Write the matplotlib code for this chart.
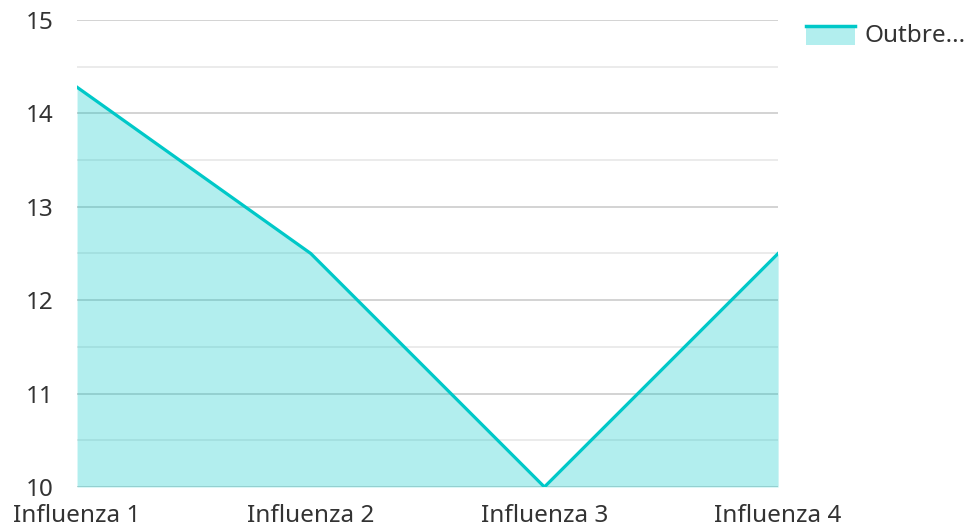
import matplotlib.pyplot as plt
from matplotlib.patches import Rectangle
from matplotlib.lines import Line2D
from matplotlib.legend_handler import HandlerBase

plt.rcParams['font.family'] = ['Noto Sans', 'DejaVu Sans']

# --- données ---
categories = ["Influenza 1", "Influenza 2", "Influenza 3", "Influenza 4"]
outbreak = [14.28, 12.5, 10.0, 12.5]
series_name = "Outbre..."

line_color = '#00c8c8'
text_color = '#333333'


class AreaHandler(HandlerBase):
    # ligne en haut, remplissage en dessous
    def create_artists(self, legend, orig_handle, xdescent, ydescent,
                       width, height, fontsize, trans):
        top = height * 0.95
        bottom = -ydescent - height * 0.15
        rect = Rectangle((-xdescent, bottom), width, top - bottom,
                         facecolor=line_color, alpha=0.3, edgecolor='none',
                         transform=trans)
        ln = Line2D([-xdescent, -xdescent + width], [top, top],
                    color=line_color, linewidth=2.5, transform=trans)
        return [rect, ln]


fig = plt.figure(figsize=(9.69, 5.28), dpi=100)
ax = fig.add_axes([0.0795, 0.0777, 0.7235, 0.8845])

x = list(range(len(categories)))
ax.fill_between(x, outbreak, 10, color=line_color, alpha=0.3, linewidth=0, zorder=2)
ax.plot(x, outbreak, color=line_color, linewidth=2.3, zorder=3)

ax.set_xlim(0, len(categories) - 1)
ax.set_ylim(10, 15)
ax.set_xticks(x)
ax.set_xticklabels(categories)
ax.set_yticks([10, 11, 12, 13, 14, 15])
ax.set_yticks([10.5, 11.5, 12.5, 13.5, 14.5], minor=True)

ax.grid(True, which='major', axis='y', color='#cccccc', linewidth=1.2, zorder=0)
ax.grid(True, which='minor', axis='y', color='#e8e8e8', linewidth=1.2, zorder=0)
ax.set_axisbelow(True)
for s in ax.spines.values():
    s.set_visible(False)

ax.tick_params(axis='both', which='both', length=0, labelsize=17.5, labelcolor=text_color)
ax.tick_params(axis='y', pad=17)
ax.tick_params(axis='x', pad=12)

ax.legend([object()], [series_name], handler_map={object: AreaHandler()},
          loc='upper left', bbox_to_anchor=(1.026, 1.012), frameon=False,
          fontsize=17.5, labelcolor=text_color, handlelength=2.0,
          handletextpad=0.4, borderaxespad=0)

plt.savefig('out.png', dpi=100)
